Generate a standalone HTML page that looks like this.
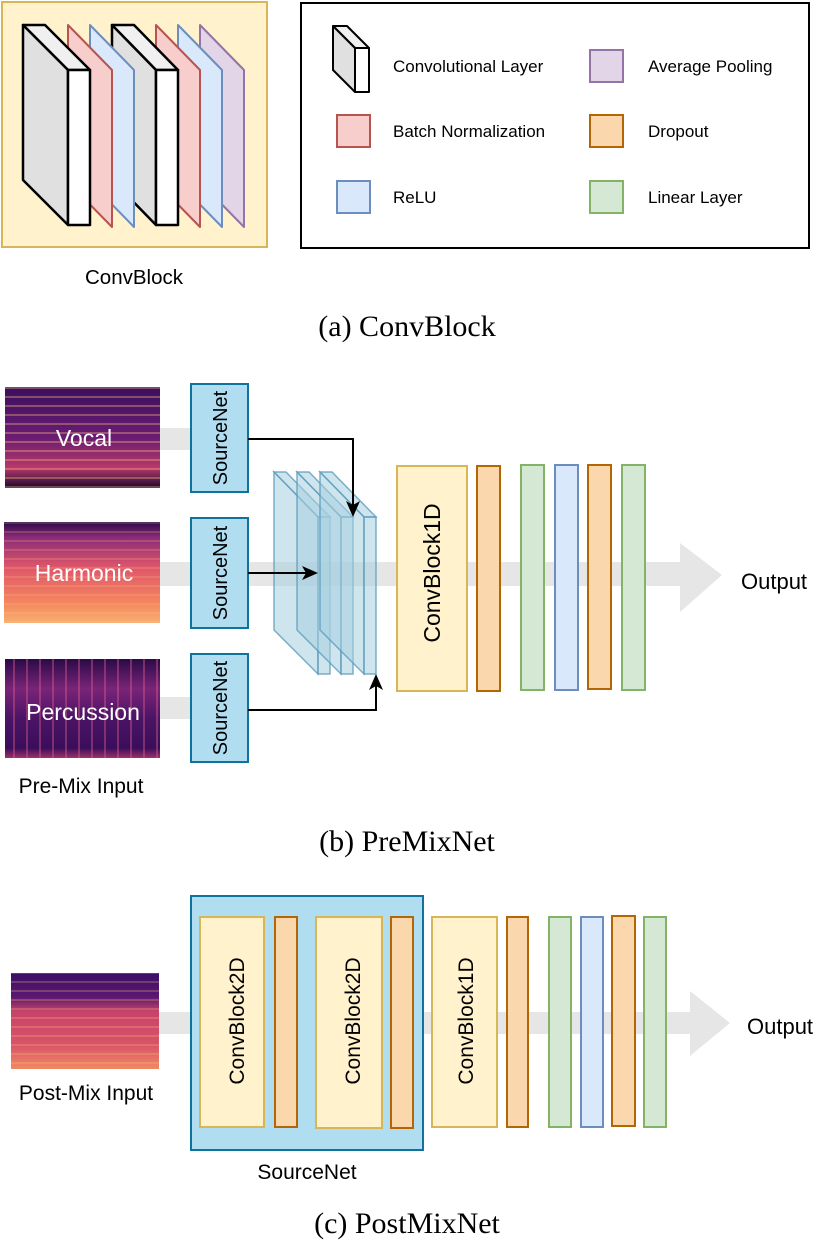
<!DOCTYPE html>
<html><head><meta charset="utf-8"><style>
html,body{margin:0;padding:0;background:#fff;}
svg{display:block;}
text{font-family:"Liberation Sans",sans-serif;}
.cap{font-family:"Liberation Serif",serif;font-size:30px;}
</style></head><body>
<svg width="814" height="1240" viewBox="0 0 814 1240" xmlns="http://www.w3.org/2000/svg">
<defs>
<linearGradient id="voc" x1="0" y1="0" x2="0" y2="1">
<stop offset="0" stop-color="#3a0f5e"/><stop offset="0.5" stop-color="#6a1c72"/><stop offset="0.8" stop-color="#b8386a"/><stop offset="1" stop-color="#1a0830"/></linearGradient>
<linearGradient id="har" x1="0" y1="0" x2="0" y2="1">
<stop offset="0" stop-color="#2a0a48"/><stop offset="0.15" stop-color="#8a2a78"/><stop offset="0.45" stop-color="#e0566a"/><stop offset="0.8" stop-color="#f48660"/><stop offset="1" stop-color="#f8b070"/></linearGradient>
<linearGradient id="per" x1="0" y1="0" x2="0" y2="1">
<stop offset="0" stop-color="#2a0a48"/><stop offset="0.3" stop-color="#7a2478"/><stop offset="0.6" stop-color="#4a1466"/><stop offset="0.9" stop-color="#3a0e5a"/><stop offset="1" stop-color="#a0306c"/></linearGradient>
<linearGradient id="post" x1="0" y1="0" x2="0" y2="1">
<stop offset="0" stop-color="#3a0f64"/><stop offset="0.25" stop-color="#5a1870"/><stop offset="0.4" stop-color="#c8426a"/><stop offset="0.75" stop-color="#d85468"/><stop offset="1" stop-color="#f08a62"/></linearGradient>
<pattern id="hstripe" width="8" height="9" patternUnits="userSpaceOnUse"><rect width="8" height="2" fill="#ffc080" opacity="0.35"/></pattern>
<pattern id="vstripe" width="13" height="8" patternUnits="userSpaceOnUse"><rect width="2" height="8" fill="#e0608a" opacity="0.4"/></pattern>
</defs>

<!-- (a) ConvBlock panel -->
<rect x="2" y="2" width="265" height="245" fill="#fff2cc" stroke="#d6b656" stroke-width="2"/>
<g stroke-width="2" stroke-linejoin="round">
<polygon points="200,25 244,70 244,227 200,182" fill="#e1d5e7" stroke="#9673a6"/>
<polygon points="178,25 222,70 222,227 178,182" fill="#dae8fc" stroke="#6c8ebf"/>
<polygon points="156,25 200,70 200,227 156,182" fill="#f8cecc" stroke="#b85450"/>
<g stroke="#000" stroke-width="2.5">
<polygon points="112,25 134,25 178,70 156,70" fill="#f0f0f0"/>
<polygon points="112,25 156,70 156,225 112,180" fill="#e0e0e0"/>
<rect x="156" y="70" width="22" height="155" fill="#fff"/>
</g>
<polygon points="90,25 134,70 134,227 90,182" fill="#dae8fc" stroke="#6c8ebf"/>
<polygon points="68,25 112,70 112,227 68,182" fill="#f8cecc" stroke="#b85450"/>
<g stroke="#000" stroke-width="2.5">
<polygon points="23,25 45,25 90,70 68,70" fill="#f0f0f0"/>
<polygon points="23,25 68,70 68,225 23,180" fill="#e0e0e0"/>
<rect x="68" y="70" width="22" height="155" fill="#fff"/>
</g>
</g>
<text x="134" y="284" font-size="20.5" text-anchor="middle">ConvBlock</text>

<!-- legend -->
<rect x="301" y="3" width="508" height="245" fill="#fff" stroke="#000" stroke-width="2"/>
<g stroke="#000" stroke-width="2" stroke-linejoin="round">
<polygon points="333,26 347,26 369,48 355,48" fill="#f0f0f0"/>
<polygon points="333,26 355,48 355,92 333,70" fill="#e0e0e0"/>
<rect x="355" y="48" width="14" height="44" fill="#fff"/>
</g>
<rect x="337" y="115" width="33" height="32" fill="#f8cecc" stroke="#b85450" stroke-width="2"/>
<rect x="337" y="181" width="33" height="32" fill="#dae8fc" stroke="#6c8ebf" stroke-width="2"/>
<rect x="590" y="50" width="33" height="32" fill="#e1d5e7" stroke="#9673a6" stroke-width="2"/>
<rect x="590" y="115" width="33" height="32" fill="#fad7ac" stroke="#b46504" stroke-width="2"/>
<rect x="590" y="181" width="33" height="32" fill="#d5e8d4" stroke="#82b366" stroke-width="2"/>
<g font-size="17">
<text x="393" y="72">Convolutional Layer</text>
<text x="393" y="137">Batch Normalization</text>
<text x="393" y="203">ReLU</text>
<text x="648" y="72">Average Pooling</text>
<text x="648" y="137">Dropout</text>
<text x="648" y="203">Linear Layer</text>
</g>
<text class="cap" x="407" y="336" text-anchor="middle">(a)  ConvBlock</text>

<!-- (b) PreMixNet -->
<rect x="160" y="428" width="31" height="22" fill="#e6e6e6"/>
<rect x="160" y="697" width="31" height="22" fill="#e6e6e6"/>
<rect x="160" y="562" width="522" height="24" fill="#e6e6e6"/>
<polygon points="680,543 722,575 680,612" fill="#e6e6e6"/>

<rect x="5" y="387" width="155" height="101" fill="url(#voc)"/>
<rect x="5" y="387" width="155" height="101" fill="url(#hstripe)"/>
<rect x="4" y="522" width="156" height="101" fill="url(#har)"/>
<rect x="4" y="522" width="156" height="101" fill="url(#hstripe)" opacity="0.6"/>
<rect x="5" y="659" width="155" height="99" fill="url(#per)"/>
<rect x="5" y="659" width="155" height="99" fill="url(#vstripe)"/>
<g fill="#fff" font-size="23" text-anchor="middle">
<text x="84" y="446">Vocal</text>
<text x="84" y="581">Harmonic</text>
<text x="83" y="720">Percussion</text>
</g>
<text x="81" y="793" font-size="21" text-anchor="middle">Pre-Mix Input</text>

<g fill="#b1ddf0" stroke="#10739e" stroke-width="2">
<rect x="191" y="384" width="57" height="108"/>
<rect x="191" y="518" width="57" height="110"/>
<rect x="191" y="654" width="57" height="108"/>
</g>
<g font-size="20" text-anchor="middle">
<text transform="translate(227,438) rotate(-90)">SourceNet</text>
<text transform="translate(227,573) rotate(-90)">SourceNet</text>
<text transform="translate(227,708) rotate(-90)">SourceNet</text>
</g>

<g fill="#a8cfe0" fill-opacity="0.55" stroke="#5d9cbc" stroke-width="1.5" stroke-opacity="0.8">
<polygon points="274,472 286,472 330,517 318,517"/>
<polygon points="274,472 318,517 318,674 274,630"/>
<rect x="318" y="517" width="12" height="157"/>
<polygon points="297,472 309,472 353,517 341,517"/>
<polygon points="297,472 341,517 341,674 297,630"/>
<rect x="341" y="517" width="12" height="157"/>
<polygon points="320,472 332,472 376,517 364,517"/>
<polygon points="320,472 364,517 364,674 320,630"/>
<rect x="364" y="517" width="12" height="157"/>
</g>

<g stroke="#000" stroke-width="2" fill="none">
<polyline points="248,439 353,439 353,505"/>
<line x1="248" y1="573" x2="306" y2="573"/>
<polyline points="248,710 376,710 376,686"/>
</g>
<g fill="#000">
<polygon points="353,517 346,501 353,505 360,501"/>
<polygon points="318,573 302,566 306,573 302,580"/>
<polygon points="376,674 369,690 376,686 383,690"/>
</g>

<rect x="397" y="466" width="70" height="225" fill="#fff2cc" stroke="#d6b656" stroke-width="2"/>
<text transform="translate(440,573) rotate(-90)" font-size="23" text-anchor="middle">ConvBlock1D</text>
<rect x="477" y="466" width="23" height="225" fill="#fad7ac" stroke="#b46504" stroke-width="2"/>
<rect x="521" y="465" width="23" height="225" fill="#d5e8d4" stroke="#82b366" stroke-width="2"/>
<rect x="555" y="465" width="23" height="225" fill="#dae8fc" stroke="#6c8ebf" stroke-width="2"/>
<rect x="588" y="465" width="23" height="224" fill="#fad7ac" stroke="#b46504" stroke-width="2"/>
<rect x="622" y="465" width="23" height="225" fill="#d5e8d4" stroke="#82b366" stroke-width="2"/>
<text x="741" y="589" font-size="22">Output</text>
<text class="cap" x="407" y="851" text-anchor="middle">(b)  PreMixNet</text>

<!-- (c) PostMixNet -->
<rect x="159" y="1012" width="536" height="22" fill="#e6e6e6"/>
<polygon points="690,991 730,1023 690,1056" fill="#e6e6e6"/>
<rect x="11" y="973" width="148" height="96" fill="url(#post)"/>
<rect x="11" y="973" width="148" height="96" fill="url(#hstripe)" opacity="0.7"/>
<text x="86" y="1100" font-size="21" text-anchor="middle">Post-Mix Input</text>

<rect x="191" y="896" width="232" height="254" fill="#b1ddf0" stroke="#10739e" stroke-width="2"/>
<rect x="200" y="917" width="64" height="210" fill="#fff2cc" stroke="#d6b656" stroke-width="2"/>
<rect x="275" y="917" width="22" height="210" fill="#fad7ac" stroke="#b46504" stroke-width="2"/>
<rect x="316" y="917" width="66" height="211" fill="#fff2cc" stroke="#d6b656" stroke-width="2"/>
<rect x="391" y="917" width="22" height="211" fill="#fad7ac" stroke="#b46504" stroke-width="2"/>
<text transform="translate(244,1021) rotate(-90)" font-size="21" text-anchor="middle">ConvBlock2D</text>
<text transform="translate(360,1021) rotate(-90)" font-size="21" text-anchor="middle">ConvBlock2D</text>
<text x="307" y="1179" font-size="21" text-anchor="middle">SourceNet</text>

<rect x="432" y="917" width="65" height="210" fill="#fff2cc" stroke="#d6b656" stroke-width="2"/>
<text transform="translate(473,1021) rotate(-90)" font-size="21" text-anchor="middle">ConvBlock1D</text>
<rect x="507" y="917" width="21" height="210" fill="#fad7ac" stroke="#b46504" stroke-width="2"/>
<rect x="549" y="917" width="22" height="210" fill="#d5e8d4" stroke="#82b366" stroke-width="2"/>
<rect x="581" y="917" width="22" height="210" fill="#dae8fc" stroke="#6c8ebf" stroke-width="2"/>
<rect x="612" y="916" width="23" height="210" fill="#fad7ac" stroke="#b46504" stroke-width="2"/>
<rect x="644" y="917" width="22" height="210" fill="#d5e8d4" stroke="#82b366" stroke-width="2"/>
<text x="747" y="1034" font-size="22">Output</text>
<text class="cap" x="407" y="1233" text-anchor="middle">(c)  PostMixNet</text>
</svg>
</body></html>
